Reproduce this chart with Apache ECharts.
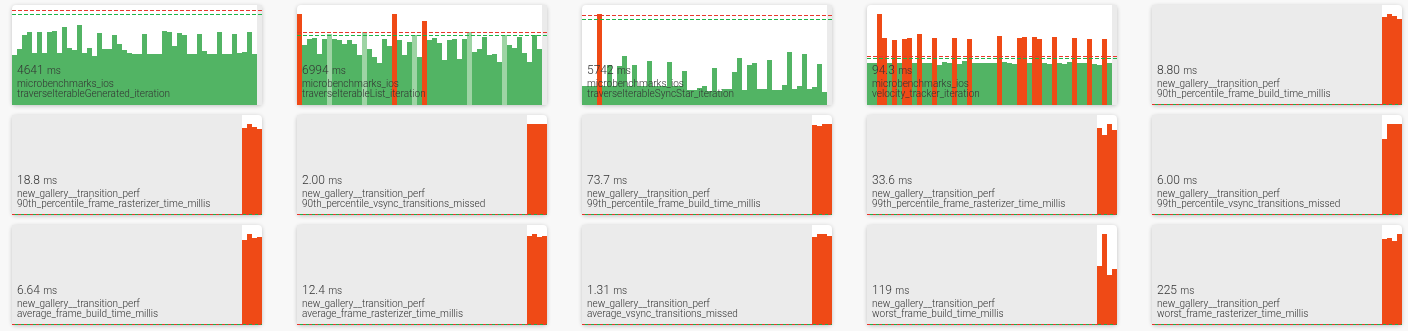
<!DOCTYPE html>
<html><head><meta charset="utf-8">
<script src="https://cdn.jsdelivr.net/npm/echarts@6/dist/echarts.min.js"></script>
<style>html,body{margin:0;padding:0;background:#f8f8f8;}#main{width:1408px;height:331px;}</style>
</head><body><div id="main"></div>
<script>
// commit slots (x categories)
const categories = ['1','2','3','4','5','6','7','8','9','10','11','12','13','14','15','16','17','18','19','20',
  '21','22','23','24','25','26','27','28','29','30','31','32','33','34','35','36','37','38','39','40',
  '41','42','43','44','45','46','47','48','49','50'];

// displayed latest values, groups and metric names
const latestValues = ['4641','6994','5742','94.3','8.80','18.8','2.00','73.7','33.6','6.00','6.64','12.4','1.31','119','225'];
const groupNames = ['microbenchmarks_ios','microbenchmarks_ios','microbenchmarks_ios','microbenchmarks_ios',
  'new_gallery__transition_perf','new_gallery__transition_perf','new_gallery__transition_perf','new_gallery__transition_perf',
  'new_gallery__transition_perf','new_gallery__transition_perf','new_gallery__transition_perf','new_gallery__transition_perf',
  'new_gallery__transition_perf','new_gallery__transition_perf','new_gallery__transition_perf'];
const metricNames = ['traverseIterableGenerated_iteration','traverseIterableList_iteration','traverseIterableSyncStar_iteration',
  'velocity_tracker_iteration','90th_percentile_frame_build_time_millis','90th_percentile_frame_rasterizer_time_millis',
  '90th_percentile_vsync_transitions_missed','99th_percentile_frame_build_time_millis','99th_percentile_frame_rasterizer_time_millis',
  '99th_percentile_vsync_transitions_missed','average_frame_build_time_millis','average_frame_rasterizer_time_millis',
  'average_vsync_transitions_missed','worst_frame_build_time_millis','worst_frame_rasterizer_time_millis'];

// series values (relative to each chart's axis, 0..100)
const generatedValues = [50,56,70,73,52,73,52,73,74,52,78,57,55,80,52,57,49,72,56,56,70,61,55,52,51,51,71,51,51,51,74,73,59,72,70,51,51,71,54,51,51,73,51,51,71,52,53,73,51];
const listValues = [91,60,66,67,51,66,71,66,65,61,65,61,50,73,56,48,42,66,59,91,65,50,63,70,48,84,65,67,62,45,65,66,46,66,73,53,56,68,50,51,43,70,60,57,68,52,43,70,56];
const syncStarValues = [19,19,19,91,19,40,19,39,49,19,40,19,19,44,19,19,19,43,19,19,34,15,15,17,19,14,37,14,16,16,33,47,15,40,42,16,16,45,15,15,20,53,16,19,51,16,18,41,13];
const velocityValues = [42,42,91,67,42,65,42,66,67,42,71,42,42,67,40,43,42,67,41,44,66,42,42,42,42,42,69,43,42,41,67,68,42,68,66,42,41,68,42,41,43,67,42,42,66,41,40,66,42];
const p90BuildValues = [88,91,89,86];
const p90RasterValues = [87,91,88,86];
const p90VsyncValues = [91,91,91,91];
const p99BuildValues = [90,89,91,91];
const p99RasterValues = [87,80,91,85];
const p99VsyncValues = [76,91,91,91];
const avgBuildValues = [85,91,87,88];
const avgRasterValues = [89,91,88,89];
const avgVsyncValues = [88,91,91,89];
const worstBuildValues = [59,91,50,56];
const worstRasterValues = [86,87,84,91];

// regressions (red) and outliers (light) by index
const listRed = [0,19,25];
const listLight = [6,13,23,34,41];
const syncStarRed = [3];
const velocityRed = [2,3,5,7,8,10,13,17,20,26,30,31,33,34,37,41,44,47];

// threshold lines
const upperThresholds = [95,73,90,49,1,1,1,1,1,1,1,1,1,1,1];
const lowerThresholds = [91,70,86,47,1,1,1,1,1,1,1,1,1,1,1];

const RED = '#ef4a16', GREEN = '#52b464', LIGHT = '#9ed4a4', GRAY = '#ebebeb';
const RED_LINE = '#e8372c', GREEN_LINE = '#1cb347';

const allRed = [0,1,2,3];
const charts = [
  {values: generatedValues, start: 0, red: [], light: []},
  {values: listValues, start: 0, red: listRed, light: listLight},
  {values: syncStarValues, start: 0, red: syncStarRed, light: []},
  {values: velocityValues, start: 0, red: velocityRed, light: []},
  {values: p90BuildValues, start: 46, red: allRed, light: []},
  {values: p90RasterValues, start: 46, red: allRed, light: []},
  {values: p90VsyncValues, start: 46, red: allRed, light: []},
  {values: p99BuildValues, start: 46, red: allRed, light: []},
  {values: p99RasterValues, start: 46, red: allRed, light: []},
  {values: p99VsyncValues, start: 46, red: allRed, light: []},
  {values: avgBuildValues, start: 46, red: allRed, light: []},
  {values: avgRasterValues, start: 46, red: allRed, light: []},
  {values: avgVsyncValues, start: 46, red: allRed, light: []},
  {values: worstBuildValues, start: 46, red: allRed, light: []},
  {values: worstRasterValues, start: 46, red: allRed, light: []}
];

const colLeft = [12, 297, 582, 867, 1152];
const rowTop = [5, 115, 225];
const CW = 250, CH = 100;
const FONT = 'Roboto, "Noto Sans", sans-serif';

const grids = [], xAxes = [], yAxes = [], series = [], graphics = [];
charts.forEach((c, ci) => {
  const L = colLeft[ci % 5], T = rowTop[Math.floor(ci / 5)];
  grids.push({left: L, top: T, width: CW, height: CH});
  xAxes.push({type: 'category', gridIndex: ci, data: categories, show: false, boundaryGap: true});
  yAxes.push({type: 'value', gridIndex: ci, min: 0, max: 100, show: false});
  const data = categories.map((cat, i) => {
    const k = i - c.start;
    if (k < 0 || k >= c.values.length) return {value: 100, itemStyle: {color: GRAY}};
    const col = c.red.includes(k) ? RED : (c.light.includes(k) ? LIGHT : GREEN);
    return {value: c.values[k], itemStyle: {color: col}};
  });
  const gray = c.start > 0;
  series.push({
    type: 'bar', xAxisIndex: ci, yAxisIndex: ci, data: data,
    barWidth: '100%', barCategoryGap: '0%', silent: true, animation: false,
    markLine: {
      silent: true, symbol: ['none', 'none'], animation: false, label: {show: false},
      data: [
        {yAxis: upperThresholds[ci], lineStyle: {color: RED_LINE, width: 1, type: gray ? [3, 3] : [4, 2]}},
        {yAxis: lowerThresholds[ci], lineStyle: {color: GREEN_LINE, width: 1, type: gray ? [3, 3] : [4, 2], dashOffset: gray ? 3 : 0}}
      ]
    }
  });
  graphics.push({
    type: 'rect', z: 0, silent: true,
    shape: {x: L, y: T, width: CW, height: CH, r: 4},
    style: {fill: '#ffffff', shadowBlur: 4, shadowColor: 'rgba(0,0,0,0.22)', shadowOffsetY: 1}
  });
  graphics.push({
    type: 'text', z: 100, silent: true, x: L + 5, y: T + 66,
    style: {
      text: '{v|' + latestValues[ci] + '} {u|ms}', verticalAlign: 'middle', fill: '#333',
      rich: {v: {fontSize: 12, fontFamily: FONT, fontWeight: 300, fill: '#333'},
             u: {fontSize: 10, fontFamily: FONT, fontWeight: 300, fill: '#333'}}
    }
  });
  graphics.push({
    type: 'text', z: 100, silent: true, x: L + 5, y: T + 79,
    style: {text: groupNames[ci], font: '300 10px ' + FONT, fill: '#333', verticalAlign: 'middle'}
  });
  graphics.push({
    type: 'text', z: 100, silent: true, x: L + 5, y: T + 89,
    style: {text: metricNames[ci], font: '300 10px ' + FONT, fill: '#333', verticalAlign: 'middle'}
  });
});

const chart = echarts.init(document.getElementById('main'), null, {renderer: 'canvas'});
chart.setOption({
  animation: false,
  backgroundColor: '#f8f8f8',
  grid: grids, xAxis: xAxes, yAxis: yAxes, series: series,
  graphic: {elements: graphics}
});
</script>
</body></html>
